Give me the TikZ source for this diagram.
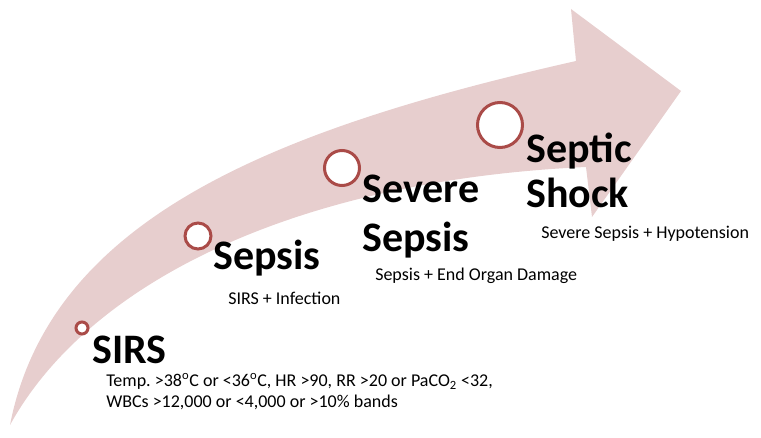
\documentclass[tikz,border=0pt]{standalone}
\usepackage{fontspec}
\setmainfont{Carlito}
\definecolor{arrowpink}{HTML}{E7CECE}
\definecolor{dotred}{HTML}{AA4B48}
\tikzset{
  stage/.style={anchor=base west,inner sep=0pt,align=left,font=\bfseries\fontsize{31.5}{36.75}\selectfont},
  note/.style={anchor=base west,inner sep=0pt,align=left,font=\fontsize{13.5}{15.75}\selectfont},
  dot/.style={circle,draw=dotred,fill=white,line width=2.25pt,inner sep=0pt}
}
\begin{document}
\begin{tikzpicture}[x=0.75pt,y=-0.75pt]
\useasboundingbox (0,0) rectangle (761,438);

% draw arrow
\fill[arrowpink] (10,425) .. controls (50,220) and (270,130) .. (576,61)
  -- (571,9) -- (681,91) -- (592,217) -- (586,167)
  .. controls (300,180) and (90,280) .. (10,425) -- cycle;

% stage dots
\foreach \name/\x/\y/\d in {sirs/82/328/9, sepsis/198/236/19.5, severe/342/168/26.25, shock/500/125/33.75}
	\node[dot,minimum size=\d pt] (\name) at (\x,\y) {};

% stage names (base = last line)
\node[stage] (sirsname) at (92,364) {SIRS};
\node[stage] (sepsisname) at (213,270) {Sepsis};
\node[stage] (severename) at (362,252) {Severe\\Sepsis};
\node[stage] (shockname) at (526,208) {Septic\\[-3pt]Shock};

% criteria
\node[note] (sirsnote) at (106,408) {Temp.\ >38\textsuperscript{o}C or <36\textsuperscript{o}C, HR >90, RR >20 or PaCO\textsubscript{2} <32,\\[0.5pt]WBCs >12,000 or <4,000 or >10\% bands};
\node[note] (sepsisnote) at (228,305) {SIRS + Infection};
\node[note] (severenote) at (375,281) {Sepsis + End Organ Damage};
\node[note] (shocknote) at (541,239) {Severe Sepsis + Hypotension};
\end{tikzpicture}
\end{document}
